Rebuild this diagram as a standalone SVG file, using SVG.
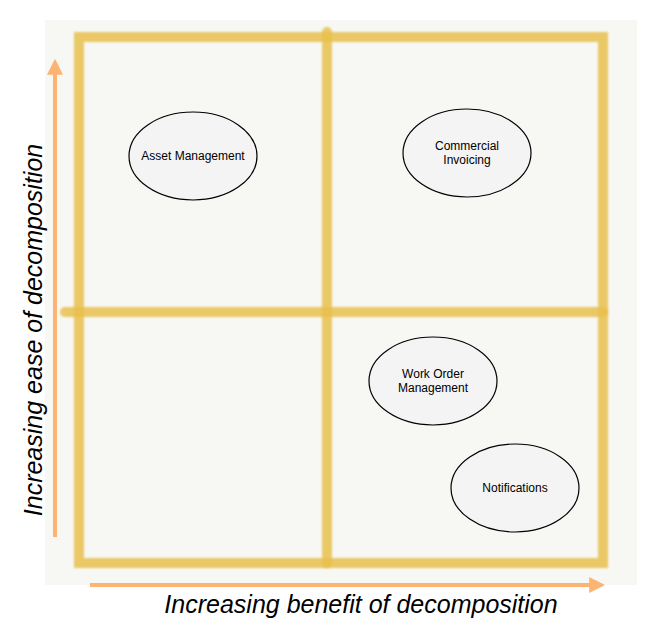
<svg xmlns="http://www.w3.org/2000/svg" width="657" height="633" viewBox="0 0 657 633">
<defs>
<filter id="blur" filterUnits="userSpaceOnUse" x="0" y="0" width="657" height="633"><feGaussianBlur stdDeviation="1.2"/></filter>
<marker id="oa" viewBox="0 0 10 10" refX="8" refY="5" markerWidth="4" markerHeight="4" orient="auto"><path d="M0,0 L10,5 L0,10 Z" fill="#fdb473"/></marker>
</defs>
<style>
.grid{stroke:#e9bf4e;stroke-opacity:0.85;stroke-width:10;fill:none;stroke-linecap:round;filter:url(#blur)}
.ax{stroke:#fdb473;stroke-width:4;fill:none}
.node ellipse{fill:#f4f4f4;stroke:#000;stroke-width:1.2}
.node text{font-family:"Liberation Sans",Arial,sans-serif;font-size:12px;text-anchor:middle;fill:#000}
.lab{font-family:"Liberation Sans",Arial,sans-serif;font-style:italic;text-anchor:middle;fill:#000}
</style>
<rect x="45" y="20" width="592" height="565" fill="#f7f7f3"/>
<g id="connectors">
<path class="grid" d="M79,37 H603 V563 H79 Z"/>
<path class="grid" d="M327,32 V563"/>
<path class="grid" d="M65,312 H603"/>
<path class="ax" d="M55,537 V62" marker-end="url(#oa)"/>
<path class="ax" d="M90,585 H602" marker-end="url(#oa)"/>
</g>
<g id="asset" class="node"><ellipse cx="193" cy="156" rx="64" ry="44"/><text x="193" y="160">Asset Management</text></g>
<g id="invoicing" class="node"><ellipse cx="467" cy="153" rx="64" ry="44"/><text x="467" y="150">Commercial</text><text x="467" y="164">Invoicing</text></g>
<g id="workorder" class="node"><ellipse cx="433" cy="381" rx="64" ry="44"/><text x="433" y="378">Work Order</text><text x="433" y="392">Management</text></g>
<g id="notifications" class="node"><ellipse cx="515" cy="488" rx="64" ry="44"/><text x="515" y="492">Notifications</text></g>
<text class="lab" font-size="25" transform="translate(42,330) rotate(-90)">Increasing ease of decomposition</text>
<text class="lab" font-size="25" x="361" y="613">Increasing benefit of decomposition</text>
</svg>
